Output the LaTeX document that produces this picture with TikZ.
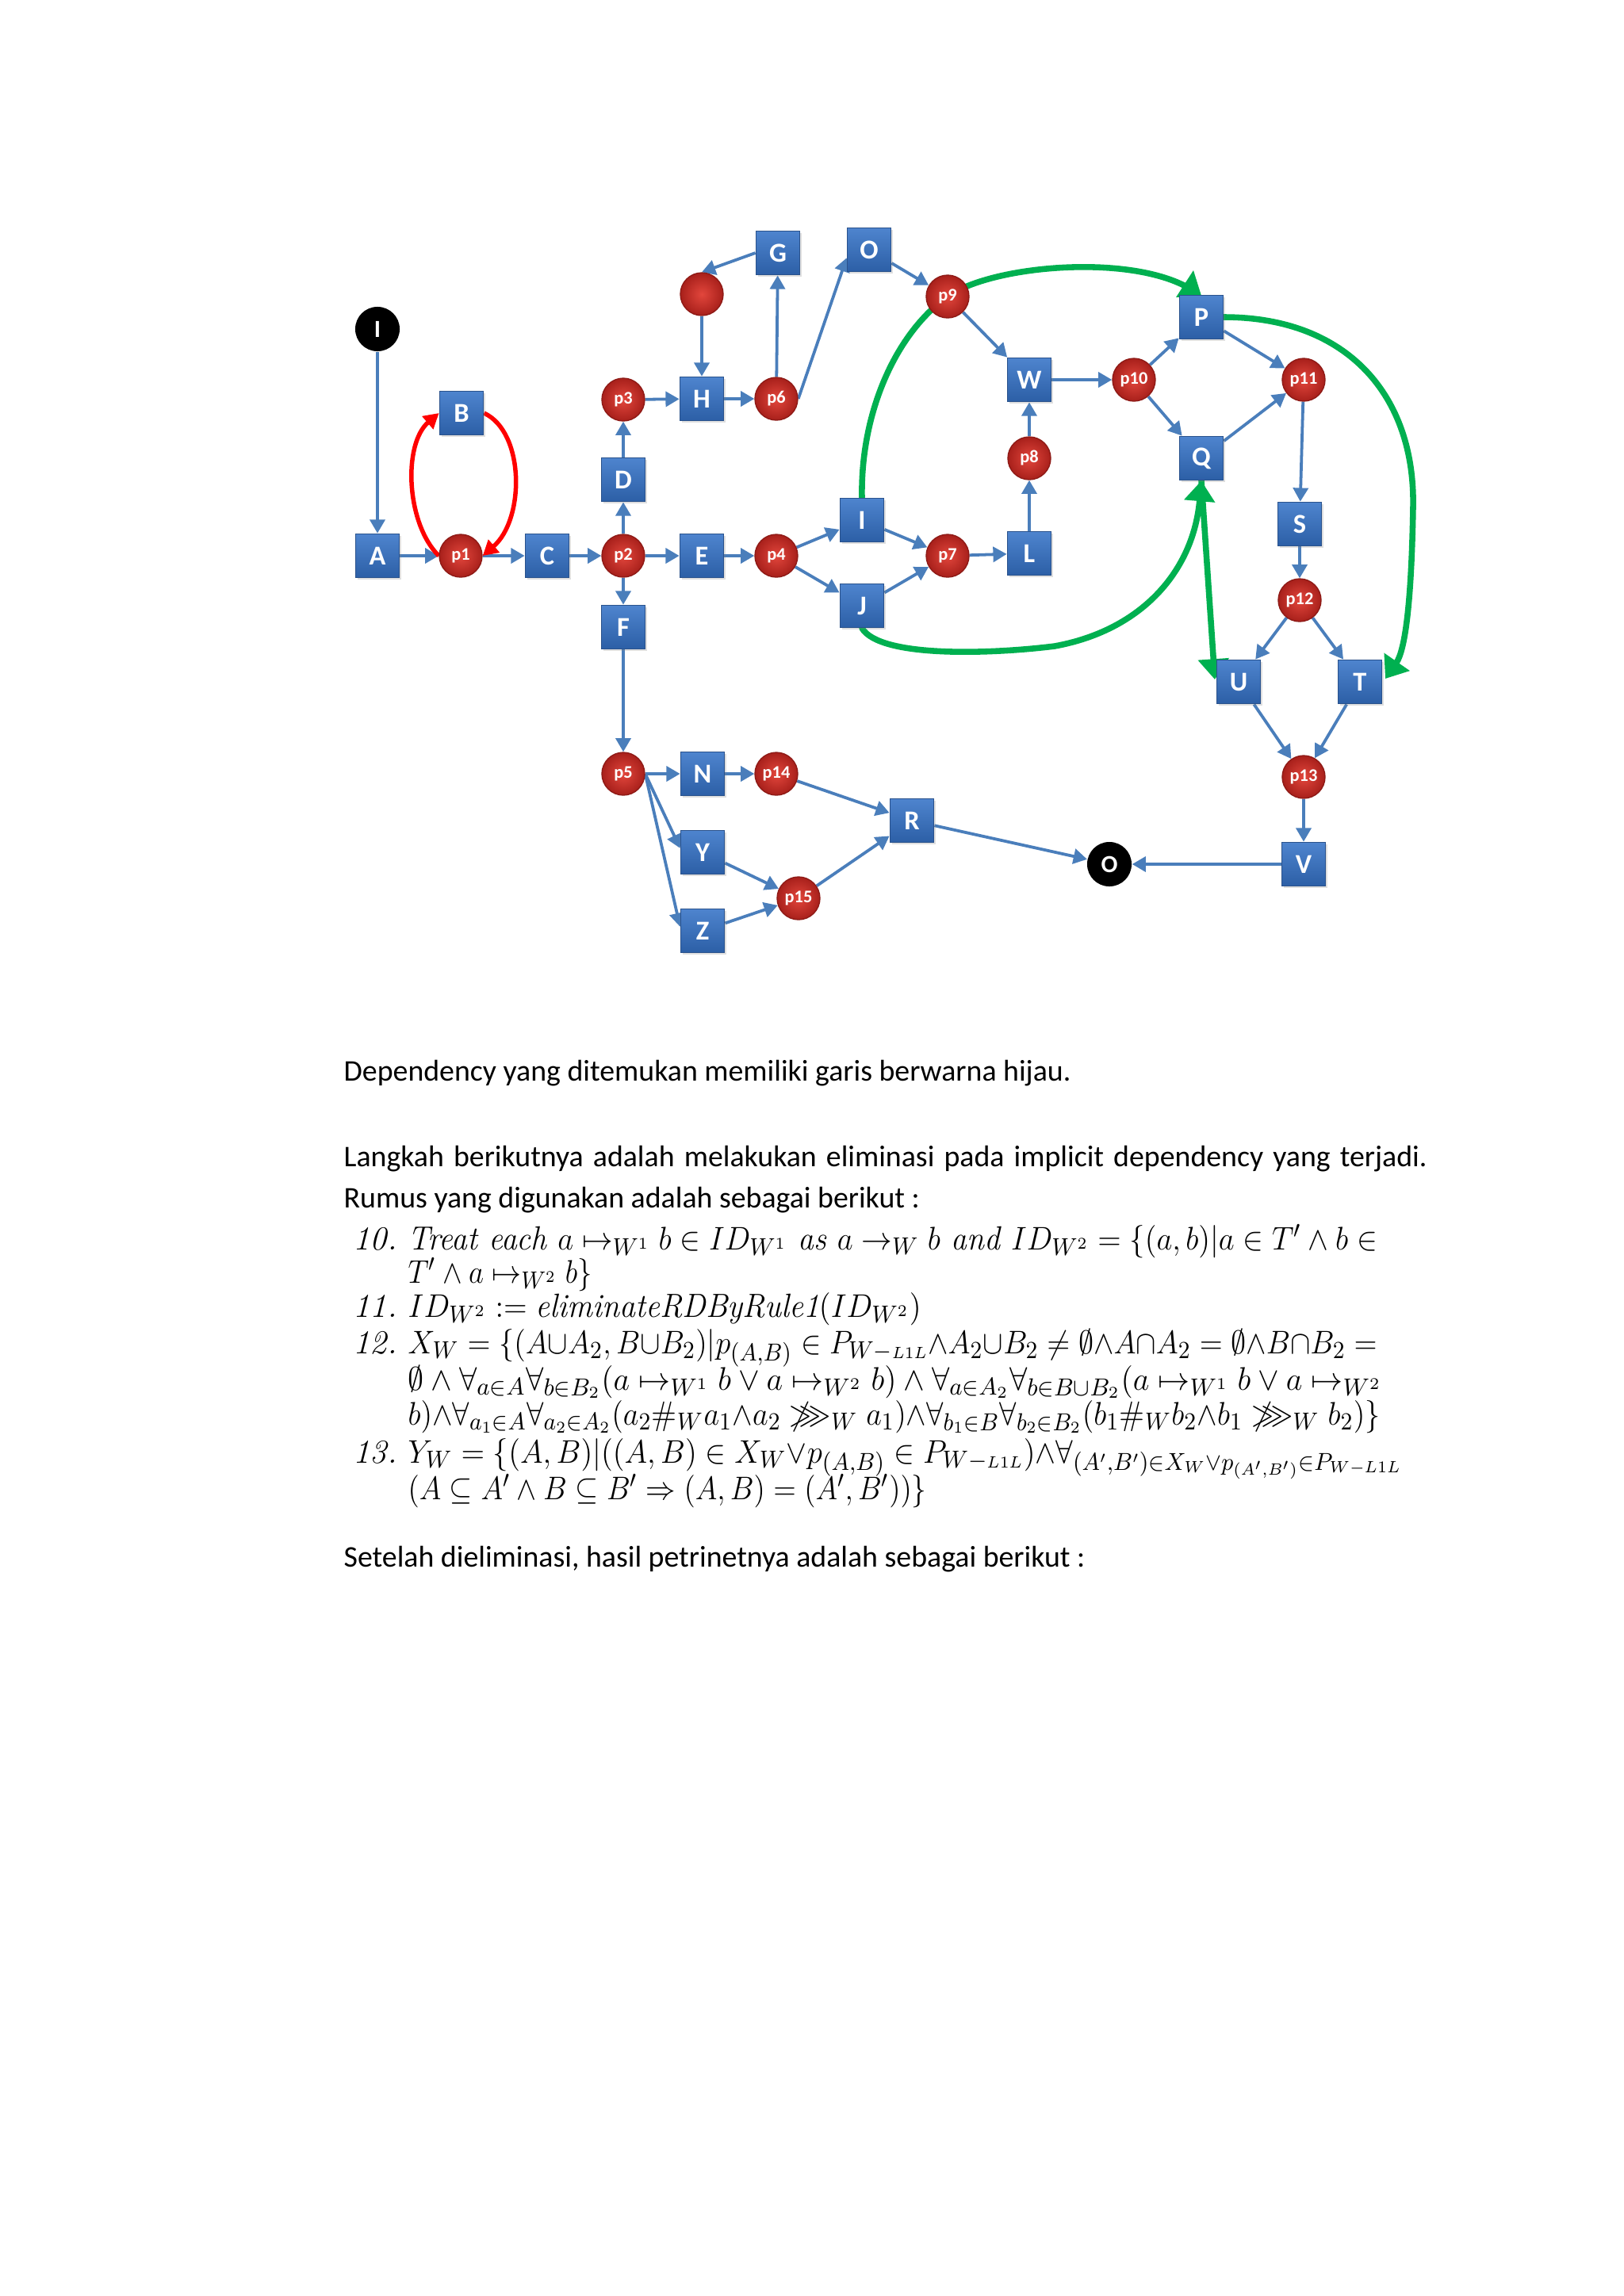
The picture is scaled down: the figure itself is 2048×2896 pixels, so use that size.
\documentclass[tikz,border=0pt]{standalone}
\usepackage{amsmath,amssymb}
\usepackage{graphicx}
\usepackage{fontspec}
\newfontfamily\calibri{Carlito}
\usetikzlibrary{arrows.meta,shadows}
\newlength\pxu \setlength\pxu{0.29072pt}
\definecolor{boxtop}{HTML}{4E84CE}
\definecolor{boxbot}{HTML}{2C5FA6}
\definecolor{boxedge}{HTML}{2A528C}
\definecolor{placein}{HTML}{E2463C}
\definecolor{placeout}{HTML}{A8201B}
\definecolor{placeedge}{HTML}{8E1A16}
\definecolor{arrowblue}{HTML}{4A7EBB}
\definecolor{ggreen}{HTML}{00B050}
\definecolor{rred}{HTML}{FF0000}
\pgfdeclarelayer{bg}
\pgfsetlayers{bg,main}
\begin{document}
\begin{tikzpicture}[x=0.29072pt,y=-0.29072pt,
  tbox/.style={rectangle, minimum width=16pt, minimum height=16pt, inner sep=0pt,
    draw=boxedge, line width=0.5pt, top color=boxtop, bottom color=boxbot, text=white,
    font=\calibri\bfseries\fontsize{10}{10}\selectfont,
    drop shadow={shadow xshift=0.7pt, shadow yshift=-0.7pt, opacity=0.25}},
  place/.style={circle, minimum size=15.7pt, inner sep=0pt, draw=placeedge, line width=0.4pt,
    inner color=placein, outer color=placeout, text=white,
    font=\calibri\bfseries\fontsize{6.5}{7}\selectfont},
  term/.style={circle, minimum size=16.3pt, inner sep=0pt, fill=black, text=white,
    font=\calibri\bfseries\fontsize{9}{9}\selectfont},
  barrow/.style={draw=arrowblue, line width=1.1pt, -{Triangle[length=5pt,width=5.5pt]}},
  garrow/.style={draw=ggreen, line width=2.2pt, line cap=round, -{Triangle[length=7.5pt,width=11pt]}},
  gline/.style={draw=ggreen, line width=2.2pt, line cap=round},
  rarrow/.style={draw=rred, line width=1.6pt, -{Triangle[length=5.5pt,width=6pt]}},
  txt/.style={anchor=base west, inner sep=0pt, font=\calibri\fontsize{11}{13}\selectfont},
  fl/.style={anchor=base west, inner sep=0pt, font=\fontsize{12.3}{14}\selectfont\itshape}
]
\useasboundingbox (0,0) rectangle (2048,2896);

% ---------- nodes ----------
\node[term] (Ist) at (476,415) {I};
\node[tbox] (A) at (476,701) {A};
\node[tbox] (B) at (582,521) {B};
\node[place] (p1) at (581,701) {p1};
\node[tbox] (C) at (690,701) {C};
\node[place] (p2) at (786,701) {p2};
\node[tbox] (D) at (786,605) {D};
\node[place] (p3) at (786,504) {p3};
\node[tbox] (F) at (786,791) {F};
\node[tbox] (E) at (885,701) {E};
\node[tbox] (H) at (885,503) {H};
\node[place] (pu) at (885,371) {};
\node[tbox] (G) at (981,319) {G};
\node[place] (p6) at (979,503) {p6};
\node[tbox] (Ob) at (1096,315) {O};
\node[place] (p4) at (979,701) {p4};
\node[tbox] (Ib) at (1087,656) {I};
\node[tbox] (J) at (1087,764) {J};
\node[place] (p7) at (1195,701) {p7};
\node[tbox] (L) at (1298,698) {L};
\node[place] (p8) at (1298,578) {p8};
\node[tbox] (W) at (1298,479) {W};
\node[place] (p9) at (1195,374) {p9};
\node[place] (p10) at (1430,479) {p10};
\node[tbox] (P) at (1515,400) {P};
\node[tbox] (Q) at (1515,578) {Q};
\node[place] (p11) at (1644,479) {p11};
\node[tbox] (S) at (1639,661) {S};
\node[place] (p12) at (1639,757) {p12};
\node[tbox] (U) at (1562,860) {U};
\node[tbox] (T) at (1715,860) {T};
\node[place] (p13) at (1644,980) {p13};
\node[tbox] (V) at (1644,1090) {V};
\node[term] (Oend) at (1399,1090) {O};
\node[place] (p5) at (786,976) {p5};
\node[tbox] (N) at (886,976) {N};
\node[place] (p14) at (979,976) {p14};
\node[tbox] (R) at (1150,1035) {R};
\node[tbox] (Y) at (886,1075) {Y};
\node[tbox] (Z) at (886,1174) {Z};
\node[place] (p15) at (1007,1133) {p15};

\coordinate (gPend) at (1497,362);
\coordinate (gUtip) at (1532,857);
\coordinate (gTtip) at (1747,856);

% ---------- connectors ----------
\begin{pgfonlayer}{bg}
\draw[barrow] (Ist) -- (A);
\draw[barrow] (A) -- (p1);
\draw[barrow] (p1) -- (C);
\draw[barrow] (C) -- (p2);
\draw[barrow] (p2) -- (D);
\draw[barrow] (D) -- (p3);
\draw[barrow] (p2) -- (E);
\draw[barrow] (p2) -- (F);
\draw[barrow] (p3) -- (H);
\draw[barrow] (pu) -- (H);
\draw[barrow] (G.west) -- (pu.north);
\draw[barrow] (H) -- (p6);
\draw[barrow] (p6) -- (G);
\draw[barrow] (p6.east) -- ([yshift=-3pt]Ob.west);
\draw[barrow] (Ob) -- (p9);
\draw[barrow] (E) -- (p4);
\draw[barrow] (p4) -- (Ib);
\draw[barrow] (p4) -- (J);
\draw[barrow] (Ib) -- (p7);
\draw[barrow] (J) -- (p7);
\draw[barrow] (p7) -- (L);
\draw[barrow] (L) -- (p8);
\draw[barrow] (p8) -- (W);
\draw[barrow] (p9) -- (W);
\draw[barrow] (W) -- (p10);
\draw[barrow] (p10) -- (P);
\draw[barrow] (p10) -- (Q);
\draw[barrow] (P) -- (p11);
\draw[barrow] (Q) -- (p11);
\draw[barrow] (p11) -- (S);
\draw[barrow] (S) -- (p12);
\draw[barrow] (p12) -- (U);
\draw[barrow] (p12) -- (T);
\draw[barrow] (U) -- (p13);
\draw[barrow] (T) -- (p13);
\draw[barrow] (p13) -- (V);
\draw[barrow] (V) -- (Oend);
\draw[barrow] (F) -- (p5);
\draw[barrow] (p5) -- (N);
\draw[barrow] (N) -- (p14);
\draw[barrow] (p14) -- (R);
\draw[barrow] (p5.east) -- ([yshift=1.5pt]Y.west);
\draw[barrow] (p5.east) -- ([yshift=1.5pt]Z.west);
\draw[barrow] (Y) -- (p15);
\draw[barrow] (Z) -- (p15);
\draw[barrow] (p15) -- (R);
\draw[barrow] (R) -- (Oend);

% red loop
\draw[rarrow] (p1.west) .. controls (512,660) and (508,560) .. (B.west);
\draw[rarrow] (B.east) .. controls (662,545) and (662,655) .. (p1.east);

% green dependencies
\draw[gline] (Ib.north) .. controls (1085,520) and (1130,420) .. (1195,374)
   .. controls (1250,335) and (1420,320) .. (gPend);
\fill[ggreen] (1505,341) -- (1483,375) -- (1515,373) -- cycle;
\draw[garrow] (J.south) .. controls (1110,830) and (1250,825) .. (1330,815)
   .. controls (1440,795) and (1505,720) .. (Q.south);
\draw[garrow] (Q.south) -- (gUtip);
\draw[garrow] (P.east) .. controls (1700,400) and (1785,500) .. (1782,640)
   .. controls (1780,760) and (1772,820) .. (gTtip);
\end{pgfonlayer}

% ---------- text ----------
\node[txt] (t1) at (433,1363) {Dependency yang ditemukan memiliki garis berwarna hijau.};
\node[txt] (t2) at (433,1471) {\makebox[1366\pxu][s]{Langkah berikutnya adalah melakukan eliminasi pada implicit dependency yang terjadi.}};
\node[txt] (t3) at (433,1523) {Rumus yang digunakan adalah sebagai berikut :};

\node[fl] (n10) at (445,1576) {10.};
\node[fl] (f10a) at (514,1576) {\resizebox{1222\pxu}{\height}{Treat each $a \mapsto_{W^1} b \in ID_{W^1}$ as $a \rightarrow_W b$ and $ID_{W^2} = \{(a,b) | a \in T' \wedge b \in$}};
\node[fl] (f10b) at (514,1618) {\resizebox{232\pxu}{\height}{$T' \wedge a \mapsto_{W^2} b\}$}};
\node[fl] (n11) at (445,1661) {11.};
\node[fl] (f11) at (514,1661) {\resizebox{647\pxu}{\height}{$ID_{W^2} := \textit{eliminateRDByRule1}(ID_{W^2})$}};
\node[fl] (n12) at (445,1707) {12.};
\node[fl] (f12a) at (514,1707) {\resizebox{1222\pxu}{\height}{$X_W = \{(A{\cup}A_2, B{\cup}B_2) | p_{(A,B)} \in P_{W-{\scriptscriptstyle L1L}}{\wedge}A_2{\cup}B_2 \neq \emptyset{\wedge}A{\cap}A_2 = \emptyset{\wedge}B{\cap}B_2 =$}};
\node[fl] (f12b) at (514,1753) {\resizebox{1228\pxu}{\height}{$\emptyset \wedge \forall_{a\in A}\forall_{b\in B_2}(a \mapsto_{W^1} b \vee a \mapsto_{W^2} b) \wedge \forall_{a\in A_2}\forall_{b\in B\cup B_2}(a \mapsto_{W^1} b \vee a \mapsto_{W^2}$}};
\node[fl] (f12c) at (514,1797) {\resizebox{1226\pxu}{\height}{$b){\wedge}\forall_{a_1\in A}\forall_{a_2\in A_2}(a_2\#_W a_1{\wedge}a_2 \not\ggg_W a_1){\wedge}\forall_{b_1\in B}\forall_{b_2\in B_2}(b_1\#_W b_2{\wedge}b_1 \not\ggg_W b_2)\}$}};
\node[fl] (n13) at (445,1845) {13.};
\node[fl] (f13a) at (514,1845) {\resizebox{1254\pxu}{\height}{$Y_W = \{(A,B) | ((A,B) \in X_W{\vee}p_{(A,B)} \in P_{W-{\scriptscriptstyle L1L}}){\wedge}\forall_{(A',B')\in X_W\vee p_{(A',B')}\in P_{W-{\scriptscriptstyle L1L}}}$}};
\node[fl] (f13b) at (514,1891) {\resizebox{654\pxu}{\height}{$(A \subseteq A' \wedge B \subseteq B' \Rightarrow (A,B) = (A',B'))\}$}};

\node[txt] (t4) at (433,1976) {Setelah dieliminasi, hasil petrinetnya adalah sebagai berikut :};
\end{tikzpicture}
\end{document}
